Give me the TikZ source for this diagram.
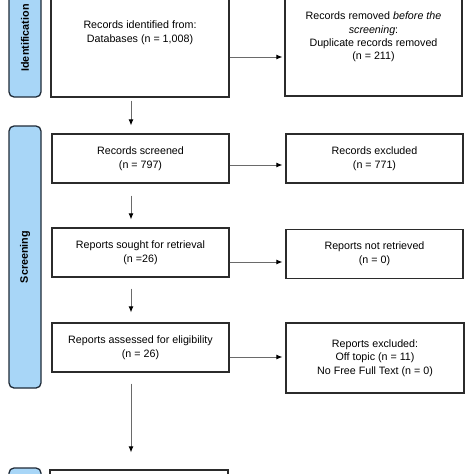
\documentclass[tikz,border=0pt]{standalone}
\usepackage{fontspec}
\setmainfont{Liberation Sans}
\usetikzlibrary{arrows.meta}
\definecolor{boxc}{HTML}{2B2B2B}
\definecolor{arrc}{HTML}{6A6A6A}
\definecolor{sidefill}{HTML}{A8D6F7}
\definecolor{sidec}{HTML}{1F2B38}
\begin{document}
\begin{tikzpicture}[x=1pt,y=-1pt,
  box/.style={draw=boxc, line width=1.3pt, fill=white, align=center, inner sep=0pt,
    font=\fontsize{10.7}{14}\selectfont},
  side/.style={draw=sidec, fill=sidefill, rounded corners=5pt, line width=1.3pt, inner sep=0pt},
  sidelabel/.style={rotate=90, font=\fontsize{10.8}{13}\selectfont\bfseries, inner sep=0pt},
  arr/.style={draw=arrc, line width=0.8pt, -{Latex[length=6pt,width=5pt,color=black]}}
]
\useasboundingbox (0,0) rectangle (474,474);
\clip (0,0) rectangle (474,474);
\fill[white] (0,0) rectangle (474,474);

% sidebars
\node[side, minimum width=32pt, minimum height=122pt] (side1) at (25,36) {};
\node[sidelabel] (lab1) at (25,38) {Identification};
\node[side, minimum width=32pt, minimum height=262pt] (side2) at (25,257) {};
\node[sidelabel] (lab2) at (side2) {Screening};
\node[side, minimum width=32pt, minimum height=44pt] (side3) at (25,490) {};

% boxes
\node[box, minimum width=178pt, minimum height=129pt] (ident) at (140,32.5)
  {Records identified from:\\Databases (n = 1,008)};
\node[box, minimum width=177pt, minimum height=118pt, font=\fontsize{10.7}{13.4}\selectfont] (rem) at (373.5,37)
  {Records removed \textit{before the}\\\textit{screening}:\\Duplicate records removed\\(n = 211)};
\node[box, minimum width=177pt, minimum height=49pt] (scr) at (140.5,158.5)
  {Records screened\\(n = 797)};
\node[box, minimum width=177pt, minimum height=49pt] (exc) at (374.5,158.5)
  {Records excluded\\(n = 771)};
\node[box, minimum width=177pt, minimum height=49pt] (sought) at (140.5,252.5)
  {Reports sought for retrieval\\(n =26)};
\node[box, minimum width=177pt, minimum height=49pt] (notret) at (374.5,254)
  {Reports not retrieved\\(n = 0)};
\node[box, minimum width=177pt, minimum height=49pt] (assess) at (140.5,347.5)
  {Reports assessed for eligibility\\(n = 26)};
\node[box, minimum width=178pt, minimum height=70pt, font=\fontsize{10.7}{13.5}\selectfont] (repexc) at (375,358)
  {Reports excluded:\\Off topic (n = 11)\\No Free Full Text (n = 0)};
\node[box, minimum width=178pt, minimum height=50pt] (final) at (139,495) {};

% horizontal arrows
\draw[arr] (ident.east |- 0,57) -- ([xshift=-2pt]rem.west |- 0,57);
\draw[arr] (scr.east |- 0,165) -- ([xshift=-3pt]exc.west |- 0,165);
\draw[arr] (sought.east |- 0,262) -- ([xshift=-3pt]notret.west |- 0,262);
\draw[arr] (assess.east |- 0,357) -- ([xshift=-3pt]repexc.west |- 0,357);

% vertical arrows
\draw[arr] ([yshift=-3pt]ident.south -| 131,0) -- ([yshift=8pt]scr.north -| 131,0);
\draw[arr] ([yshift=-12pt]scr.south -| 131,0) -- ([yshift=8pt]sought.north -| 131,0);
\draw[arr] ([yshift=-11pt]sought.south -| 131,0) -- ([yshift=10pt]assess.north -| 131,0);
\draw[arr] ([yshift=-11pt]assess.south -| 131,0) -- ([yshift=17pt]final.north -| 131,0);
\end{tikzpicture}
\end{document}
